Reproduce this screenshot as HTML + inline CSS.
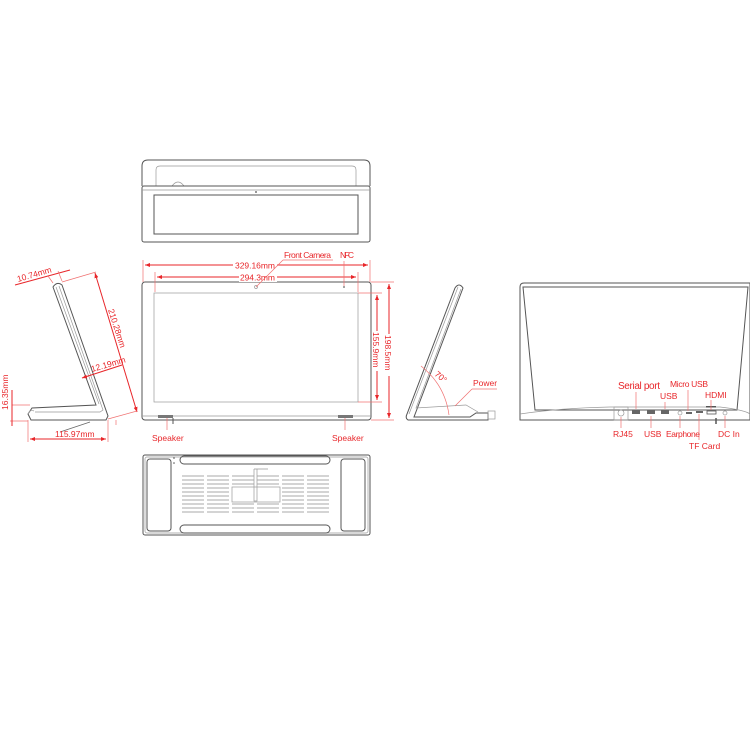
<!DOCTYPE html>
<html><head><meta charset="utf-8"><style>
html,body{margin:0;padding:0;background:#fff;}
svg{display:block;}
text{font-family:"Liberation Sans",sans-serif;fill:#e8262a;font-size:8.5px;}
.g{fill:none;stroke:#555;stroke-width:1;}
.gl{fill:none;stroke:#999;stroke-width:0.7;}
.r{fill:none;stroke:#f07070;stroke-width:0.7;}
.rs{fill:none;stroke:#e8262a;stroke-width:1;}
</style></head><body>
<svg width="750" height="750" viewBox="0 0 750 750" xmlns="http://www.w3.org/2000/svg">
<defs>
<marker id="a" markerWidth="6" markerHeight="6" refX="5" refY="3" orient="auto-start-reverse"><path d="M0,1 L5,3 L0,5z" fill="#e8262a"/></marker>
</defs>
<!-- TOP VIEW -->
<path class="g" d="M142,186 L142,166 Q142,160 148,160 L364,160 Q370,160 370,166 L370,186"/>
<path class="gl" d="M156,186 L156,170 Q156,166 160,166 L352,166 Q356,166 356,170 L356,186"/>
<path class="gl" d="M172,186 Q178,178 184,186"/>
<rect class="g" x="142" y="186" width="228" height="56" rx="2"/>
<rect class="g" x="154" y="195" width="204" height="39"/>
<line class="gl" x1="142" y1="190" x2="370" y2="190"/>
<circle cx="256" cy="192" r="1" fill="#777"/>
<!-- FRONT VIEW -->
<rect class="g" x="142" y="282" width="229" height="138" rx="3" stroke-width="1.3"/>
<rect class="gl" x="154" y="293" width="204" height="109" stroke="#888"/>
<line class="gl" x1="142" y1="416" x2="371" y2="416"/>
<rect x="158" y="415" width="15" height="3" fill="#777"/>
<rect x="338" y="415" width="15" height="3" fill="#777"/>
<circle cx="256" cy="287" r="1.5" class="gl"/>
<circle cx="344" cy="287" r="1" fill="#888"/>
<line class="r" x1="143" y1="260" x2="143" y2="282"/><line class="r" x1="370" y1="260" x2="370" y2="282"/>
<line class="rs" x1="145" y1="265" x2="368" y2="265" marker-start="url(#a)" marker-end="url(#a)"/>
<rect x="233" y="259" width="44" height="11" fill="#fff"/>
<text x="235" y="268.5" textLength="40">329.16mm</text>
<line class="r" x1="155" y1="272" x2="155" y2="292"/><line class="r" x1="358" y1="272" x2="358" y2="292"/>
<line class="rs" x1="157" y1="277" x2="356" y2="277" marker-start="url(#a)" marker-end="url(#a)"/>
<rect x="239" y="271" width="38" height="11" fill="#fff"/>
<text x="240" y="280.5" textLength="35">294.3mm</text>
<text x="284" y="258" textLength="47">Front Camera</text>
<line class="r" x1="283" y1="260" x2="333" y2="260"/>
<line class="r" x1="283" y1="260" x2="256" y2="287"/>
<text x="340" y="258" textLength="14">NFC</text>
<line class="r" x1="344" y1="261" x2="344" y2="286"/>
<line class="r" x1="371" y1="282" x2="394" y2="282"/><line class="r" x1="371" y1="420" x2="394" y2="420"/>
<line class="rs" x1="389" y1="284" x2="389" y2="418" marker-start="url(#a)" marker-end="url(#a)"/>
<line class="r" x1="358" y1="293" x2="382" y2="293"/><line class="r" x1="358" y1="402" x2="382" y2="402"/>
<line class="rs" x1="377" y1="295" x2="377" y2="400" marker-start="url(#a)" marker-end="url(#a)"/>
<rect x="385" y="334" width="8" height="42" fill="#fff"/>
<rect x="373" y="331" width="8" height="40" fill="#fff"/>
<text transform="translate(385,335) rotate(90)">198.5mm</text>
<text transform="translate(373,332) rotate(90)">155.9mm</text>
<line class="r" x1="167" y1="418" x2="167" y2="430"/>
<line class="r" x1="345" y1="418" x2="345" y2="430"/>
<text x="152" y="441">Speaker</text>
<text x="332" y="441">Speaker</text>
<line x1="173" y1="418" x2="173" y2="424" stroke="#555"/>
<!-- LEFT SIDE VIEW -->
<path class="g" d="M53,287 Q57,281 62,285 L108,416 L106,420 L31,420 L28,414 L32,408 L96,405 Z" fill="none"/>
<path class="gl" d="M56,287 L99,404 M59,286 L103,410 L100,412 L35,412"/>
<path class="gl" d="M28,414 Q30,409 34,411"/>
<line x1="60" y1="432" x2="90" y2="422" stroke="#666" stroke-width="0.8"/>
<line class="rs" x1="15" y1="285" x2="70" y2="270"/>
<text transform="translate(18,282) rotate(-16)">10.74mm</text>
<line class="r" x1="48" y1="276" x2="53" y2="283"/><line class="r" x1="58" y1="271" x2="62" y2="281"/>
<line class="r" x1="62" y1="282" x2="96" y2="272"/>
<line class="rs" x1="95" y1="273" x2="137" y2="412" marker-start="url(#a)" marker-end="url(#a)"/>
<line class="r" x1="108" y1="419" x2="137" y2="411"/>
<text transform="translate(108,310) rotate(72)">210.28mm</text>
<line class="rs" x1="82" y1="378" x2="122" y2="365" marker-start="url(#a)"/>
<text transform="translate(92,372) rotate(-16)">12.19mm</text>
<line class="r" x1="12" y1="405" x2="30" y2="405"/><line class="r" x1="10" y1="421" x2="28" y2="421"/>
<line class="rs" x1="12" y1="390" x2="12" y2="426"/>
<text transform="translate(8,410) rotate(-90)">16.35mm</text>
<line class="r" x1="28" y1="420" x2="28" y2="442"/><line class="r" x1="108" y1="420" x2="108" y2="442"/>
<line class="rs" x1="30" y1="439" x2="106" y2="439" marker-start="url(#a)" marker-end="url(#a)"/>
<text x="55" y="437">115.97mm</text>
<line class="r" x1="116" y1="420" x2="116" y2="425"/>
<!-- RIGHT SIDE VIEW -->
<path class="g" d="M455,288 Q459,282 463,288 L414,417 L470,417 L476,413 L488,413 L488,420 L408,420 Q405,418 407,414 Z"/>
<path class="gl" d="M458,287 L409,414 M461,289 L416,408 L466,405 L478,412"/>
<rect class="gl" x="488" y="411" width="7" height="8" stroke="#666"/>
<path class="r" d="M421,366 Q445,385 449,415"/>
<text transform="translate(434,375) rotate(40)">70°</text>
<text x="473" y="386">Power</text>
<line class="r" x1="472" y1="389" x2="497" y2="389"/>
<line class="r" x1="472" y1="389" x2="455" y2="406"/>
<!-- BACK VIEW -->
<path class="g" d="M520,420 L520,287 Q520,283 524,283 L750,283 L750,420 Z" stroke-width="1.2"/>
<path class="g" d="M523,287 L748,287 L737,410 L535,410 Z" stroke="#777" stroke-width="0.8"/>
<path class="gl" d="M520,414 Q560,408 610,407 L720,407 Q745,410 750,414"/>
<line x1="530" y1="420" x2="550" y2="420" stroke="#555"/>
<rect x="614" y="407" width="14" height="13" class="gl" stroke="#555"/>
<circle cx="621" cy="413" r="3" class="gl" stroke="#555"/>
<rect x="632" y="410" width="8" height="4" fill="#666"/>
<rect x="647" y="410" width="8" height="4" fill="#666"/>
<rect x="661" y="410" width="8" height="4" fill="#666"/>
<circle cx="680" cy="413" r="2" class="gl" stroke="#555"/>
<rect x="686" y="412" width="6" height="2" fill="#666"/>
<rect x="696" y="411" width="7" height="2" fill="#666"/>
<rect x="707" y="411" width="9" height="3" fill="none" stroke="#555" stroke-width="0.8"/>
<rect x="706" y="406" width="10" height="1.5" fill="#555"/>
<circle cx="725" cy="413" r="2" class="gl" stroke="#555"/>
<line x1="716" y1="418" x2="716" y2="424" stroke="#555" stroke-width="1.5"/>
<g class="r">
<line x1="621" y1="417" x2="621" y2="428"/><line x1="636" y1="392" x2="636" y2="409"/>
<line x1="651" y1="416" x2="651" y2="428"/><line x1="665" y1="402" x2="665" y2="409"/>
<line x1="680" y1="416" x2="680" y2="428"/><line x1="688" y1="390" x2="688" y2="411"/>
<line x1="699" y1="414" x2="699" y2="440"/><line x1="711" y1="400" x2="711" y2="410"/>
<line x1="725" y1="416" x2="725" y2="428"/>
</g>
<text x="618" y="389" style="font-size:10px" textLength="42">Serial port</text>
<text x="670" y="387" textLength="38">Micro USB</text>
<text x="660" y="399">USB</text>
<text x="705" y="398">HDMI</text>
<text x="613" y="437">RJ45</text>
<text x="644" y="437">USB</text>
<text x="666" y="437" textLength="34">Earphone</text>
<text x="689" y="449">TF Card</text>
<text x="718" y="437">DC In</text>
<!-- BOTTOM VIEW -->
<rect class="g" x="143" y="455" width="227" height="80" rx="2"/>
<rect class="gl" x="145" y="457" width="223" height="76" rx="2"/>
<rect class="g" x="147" y="459" width="24" height="72" rx="3"/>
<rect class="g" x="341" y="459" width="24" height="72" rx="3"/>
<rect class="g" x="180" y="456" width="150" height="8" rx="4"/>
<rect class="g" x="180" y="525" width="150" height="8" rx="4"/>
<circle cx="174" cy="458" r="0.8" fill="#555"/><circle cx="174" cy="463" r="0.8" fill="#555"/>
<g stroke="#aaa" stroke-width="1">
<path d="M182,476h22M207,476h22M232,476h22M257,476h22M282,476h22M307,476h22
M182,480h22M207,480h22M232,480h22M257,480h22M282,480h22M307,480h22
M182,484h22M207,484h22M232,484h22M257,484h22M282,484h22M307,484h22
M182,488h22M207,488h22M282,488h22M307,488h22
M182,492h22M207,492h22M282,492h22M307,492h22
M182,496h22M207,496h22M282,496h22M307,496h22
M182,500h22M207,500h22M282,500h22M307,500h22
M182,504h22M207,504h22M232,504h22M257,504h22M282,504h22M307,504h22
M182,508h22M207,508h22M232,508h22M257,508h22M282,508h22M307,508h22
M182,512h22M207,512h22M232,512h22M257,512h22M282,512h22M307,512h22"/>
</g>
<rect class="gl" x="232" y="487" width="48" height="15" stroke="#888"/>
<path class="gl" d="M254,469h14M254,469v32h3v-32" stroke="#888"/>
</svg>
</body></html>
